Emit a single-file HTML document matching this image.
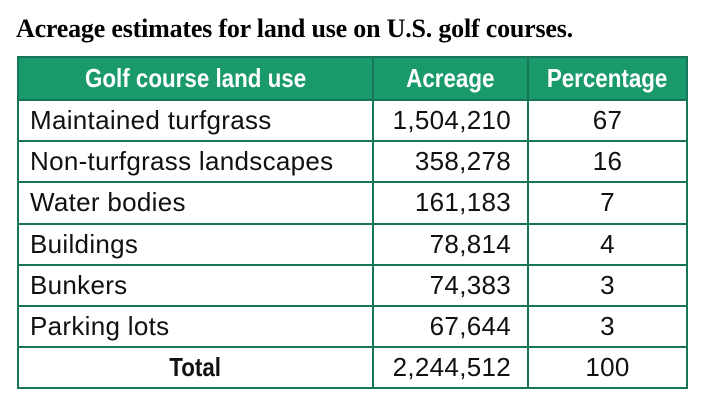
<!DOCTYPE html>
<html><head><style>
body{margin:0;background:#fff;width:712px;height:410px;overflow:hidden;position:relative;font-family:"Liberation Sans",sans-serif}
.t{position:absolute;left:16px;top:14px;font:bold 26px "Liberation Serif",serif;color:#000;letter-spacing:-0.2px;white-space:nowrap}
table{position:absolute;left:17px;top:56px;border-collapse:collapse;width:669px;table-layout:fixed}
td,th{border:2.5px solid #17765a;height:39.2px;padding:0;font-size:26px;color:#111;white-space:nowrap;letter-spacing:0.3px;overflow:hidden}
th{background:#1a9a6b;color:#fff;height:41px;font-weight:bold;font-size:26px;letter-spacing:0}
.n{display:inline-block;transform:scaleX(0.86);transform-origin:center}
td.a{text-align:right;padding-right:16px}
td.c{text-align:center}
td.l{padding-left:11px}
</style></head><body>
<div class="t">Acreage estimates for land use on U.S. golf courses.</div>
<table>
<colgroup><col style="width:355px"><col style="width:155px"><col style="width:159px"></colgroup>
<tr><th><span class="n">Golf course land use</span></th><th><span class="n">Acreage</span></th><th><span class="n">Percentage</span></th></tr>
<tr><td class="l">Maintained turfgrass</td><td class="a">1,504,210</td><td class="c">67</td></tr>
<tr><td class="l">Non-turfgrass landscapes</td><td class="a">358,278</td><td class="c">16</td></tr>
<tr><td class="l">Water bodies</td><td class="a">161,183</td><td class="c">7</td></tr>
<tr><td class="l">Buildings</td><td class="a">78,814</td><td class="c">4</td></tr>
<tr><td class="l">Bunkers</td><td class="a">74,383</td><td class="c">3</td></tr>
<tr><td class="l">Parking lots</td><td class="a">67,644</td><td class="c">3</td></tr>
<tr><td class="c" style="font-weight:bold;letter-spacing:0"><span class="n">Total</span></td><td class="a">2,244,512</td><td class="c">100</td></tr>
</table>
</body></html>
